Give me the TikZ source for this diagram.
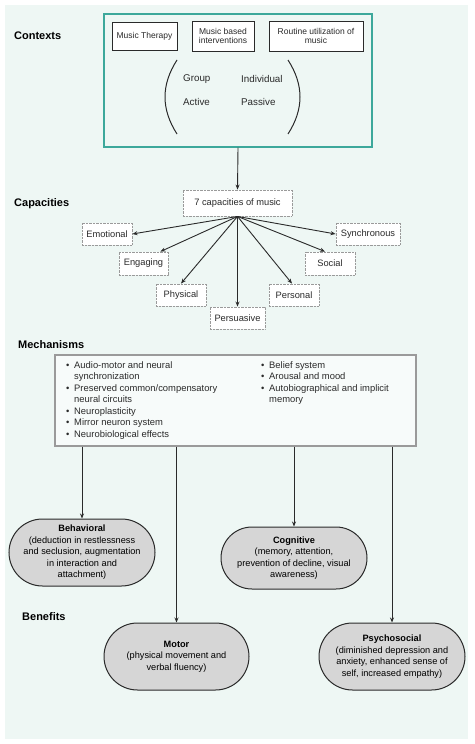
\documentclass[tikz,border=0pt]{standalone}
\usepackage{fontspec}
\setmainfont{Liberation Sans}
\usetikzlibrary{arrows.meta,shapes.misc,calc}
\definecolor{bgmint}{HTML}{EEF7F4}
\definecolor{tealb}{HTML}{3DA89B}
\definecolor{ink}{HTML}{2A2A2A}
\definecolor{gborder}{HTML}{9A9A9A}
\definecolor{mechfill}{HTML}{F7FBFA}
\definecolor{benefill}{HTML}{D6D6D6}
\newcommand{\blt}{\makebox[8pt][l]{•}}
\newcommand{\ind}{\hspace*{8pt}}
\begin{document}
\begin{tikzpicture}[x=1pt,y=-1pt,
  header/.style={anchor=west,font=\fontsize{11}{12}\selectfont\bfseries,text=black,inner sep=0},
  ctxbox/.style={draw=ink,line width=1pt,fill=white,inner sep=0,align=center,font=\fontsize{8.5}{9.5}\selectfont,text=ink},
  ctxword/.style={anchor=west,inner sep=0,font=\fontsize{9.8}{11}\selectfont,text=ink},
  capbox/.style={draw=gborder,dash pattern=on 0.7pt off 0.7pt,line width=0.9pt,fill=white,inner sep=0,font=\fontsize{9.3}{10}\selectfont,text=ink},
  benefit/.style={rounded rectangle,draw=ink,line width=1pt,fill=benefill,inner sep=0,align=center,font=\fontsize{9.2}{11.5}\selectfont,text=black},
  arr/.style={draw=ink,line width=0.9pt,-{Stealth[length=5pt,width=4pt]}},
  mechtext/.style={anchor=north west,inner sep=0,align=left,font=\fontsize{9.4}{11.5}\selectfont,text=ink}
]
\useasboundingbox (0,0) rectangle (474,744);
\fill[bgmint] (5,5) rectangle (468,739);

% Section headers
\node[header] (hctx) at (14,36) {Contexts};
\node[header] (hcap) at (14,204) {Capacities};
\node[header] (hmech) at (18,345) {Mechanisms};
\node[header] (hben) at (22,617) {Benefits};

% Contexts
\node[draw=tealb,line width=1.3pt,minimum width=268,minimum height=133,inner sep=0] (ctx) at (238,80.5) {};
\node[ctxbox,minimum width=65,minimum height=28] (mt) at (144.5,36) {Music Therapy};
\node[ctxbox,minimum width=62,minimum height=30] (mbi) at (223,36) {Music based\\[-1pt]interventions};
\node[ctxbox,minimum width=94,minimum height=30] (rum) at (316,36) {Routine utilization of\\[-1pt]music};
\draw[ink,line width=1pt] (177,60) .. controls (161,85) and (161,109) .. (177,134);
\draw[ink,line width=1pt] (288,60) .. controls (304,85) and (304,109) .. (288,134);
\node[ctxword] (grp) at (183,79) {Group};
\node[ctxword] (ind) at (241,79) {Individual};
\node[ctxword] (act) at (183,102) {Active};
\node[ctxword] (pas) at (241,102) {Passive};

% Capacities
\node[capbox,minimum width=109,minimum height=26] (cap) at (237.5,203) {7 capacities of music};
\node[capbox,minimum width=50,minimum height=22] (emo) at (107,234) {Emotional};
\node[capbox,minimum width=49,minimum height=23] (eng) at (143.5,263.5) {Engaging};
\node[capbox,minimum width=50,minimum height=22] (phy) at (181,295) {Physical};
\node[capbox,minimum width=55,minimum height=22] (prs) at (237.5,318) {Persuasive};
\node[capbox,minimum width=50,minimum height=22] (per) at (294,295) {Personal};
\node[capbox,minimum width=50,minimum height=23] (soc) at (330,263.5) {Social};
\node[capbox,minimum width=64,minimum height=22] (syn) at (368,234) {Synchronous};

\draw[arr] (ctx.south) -- (cap.north);
\draw[arr] (cap.south) -- (emo.east);
\draw[arr] (cap.south) -- ($(eng.north east)+(-8,0)$);
\draw[arr] (cap.south) -- (phy.north);
\draw[arr] (cap.south) -- (prs.north);
\draw[arr] (cap.south) -- ($(per.north)+(-2,0)$);
\draw[arr] (cap.south) -- ($(soc.north)+(-5,0)$);
\draw[arr] (cap.south) -- (syn.west);

% Mechanisms
\node[draw=gborder,line width=1.1pt,fill=mechfill,minimum width=361,minimum height=91,inner sep=0] (mech) at (235.5,400.5) {};
\node[mechtext] (mleft) at (66,361) {\blt Audio-motor and neural\\
\ind synchronization\\
\blt Preserved common/compensatory\\
\ind neural circuits\\
\blt Neuroplasticity\\
\blt Mirror neuron system\\
\blt Neurobiological effects};
\node[mechtext] (mright) at (261,361) {\blt Belief system\\
\blt Arousal and mood\\
\blt Autobiographical and implicit\\
\ind memory};

% Benefits
\node[benefit,minimum width=146,minimum height=67] (beh) at (82,552.5) {\textbf{Behavioral}\\(deduction in restlessness\\and seclusion, augmentation\\in interaction and\\attachment)};
\node[benefit,minimum width=146,minimum height=62] (cog) at (294,558) {\textbf{Cognitive}\\(memory, attention,\\prevention of decline, visual\\awareness)};
\node[benefit,minimum width=145,minimum height=67] (mot) at (176.5,656.5) {\textbf{Motor}\\(physical movement and\\verbal fluency)};
\node[benefit,minimum width=146,minimum height=67] (psy) at (392,656.5) {\textbf{Psychosocial}\\(diminished depression and\\anxiety, enhanced sense of\\self, increased empathy)};

\draw[arr] (beh.north |- mech.south) -- (beh.north);
\draw[arr] (mot.north |- mech.south) -- (mot.north);
\draw[arr] (cog.north |- mech.south) -- (cog.north);
\draw[arr] (psy.north |- mech.south) -- (psy.north);
\end{tikzpicture}
\end{document}
